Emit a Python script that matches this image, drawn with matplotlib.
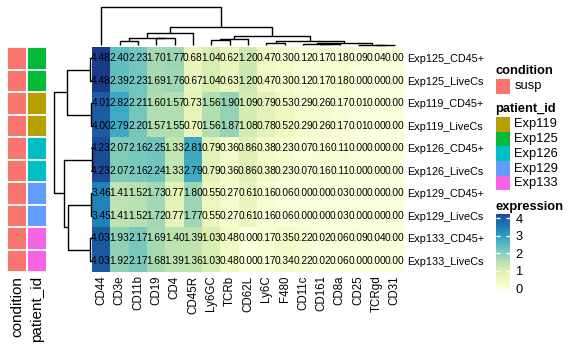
import numpy as np
import matplotlib
matplotlib.use("Agg")
import matplotlib.pyplot as plt
from matplotlib.colors import LinearSegmentedColormap, Normalize
from matplotlib.patches import Rectangle

plt.rcParams['font.family'] = ['Liberation Sans', 'DejaVu Sans']

markers = ["CD44", "CD3e", "CD11b", "CD19", "CD4", "CD45R", "Ly6GC", "TCRb", "CD62L",
           "Ly6C", "F480", "CD11c", "CD161", "CD8a", "CD25", "TCRgd", "CD31"]
samples = ["Exp125_CD45+", "Exp125_LiveCs", "Exp119_CD45+", "Exp119_LiveCs",
           "Exp126_CD45+", "Exp126_LiveCs", "Exp129_CD45+", "Exp129_LiveCs",
           "Exp133_CD45+", "Exp133_LiveCs"]
patient_of_sample = ["Exp125", "Exp125", "Exp119", "Exp119", "Exp126", "Exp126",
                     "Exp129", "Exp129", "Exp133", "Exp133"]
condition_of_sample = ["susp"] * 10

expression = np.array([
    [4.48, 2.40, 2.23, 1.70, 1.77, 0.68, 1.04, 0.62, 1.20, 0.47, 0.30, 0.12, 0.17, 0.18, 0.09, 0.04, 0.00],
    [4.48, 2.39, 2.23, 1.69, 1.76, 0.67, 1.04, 0.63, 1.20, 0.47, 0.30, 0.12, 0.17, 0.18, 0.00, 0.00, 0.00],
    [4.01, 2.82, 2.21, 1.60, 1.57, 0.73, 1.56, 1.90, 1.09, 0.79, 0.53, 0.29, 0.26, 0.17, 0.01, 0.00, 0.00],
    [4.00, 2.79, 2.20, 1.57, 1.55, 0.70, 1.56, 1.87, 1.08, 0.78, 0.52, 0.29, 0.26, 0.17, 0.01, 0.00, 0.00],
    [4.23, 2.07, 2.16, 2.25, 1.33, 2.81, 0.79, 0.36, 0.86, 0.38, 0.23, 0.07, 0.16, 0.11, 0.00, 0.00, 0.00],
    [4.23, 2.07, 2.16, 2.24, 1.33, 2.79, 0.79, 0.36, 0.86, 0.38, 0.23, 0.07, 0.16, 0.11, 0.00, 0.00, 0.00],
    [3.46, 1.41, 1.52, 1.73, 0.77, 1.80, 0.55, 0.27, 0.61, 0.16, 0.06, 0.00, 0.00, 0.03, 0.00, 0.00, 0.00],
    [3.45, 1.41, 1.52, 1.72, 0.77, 1.77, 0.55, 0.27, 0.61, 0.16, 0.06, 0.00, 0.00, 0.03, 0.00, 0.00, 0.00],
    [4.03, 1.93, 2.17, 1.69, 1.40, 1.39, 1.03, 0.48, 0.00, 0.17, 0.35, 0.22, 0.02, 0.06, 0.09, 0.04, 0.00],
    [4.03, 1.92, 2.17, 1.68, 1.39, 1.36, 1.03, 0.48, 0.00, 0.17, 0.34, 0.22, 0.02, 0.06, 0.00, 0.00, 0.00],
])

# dendrogram structure (leaf order as displayed), heights = average linkage
row_tree = ((("Exp125_CD45+", "Exp125_LiveCs"), ("Exp119_CD45+", "Exp119_LiveCs")),
            (("Exp126_CD45+", "Exp126_LiveCs"),
             (("Exp129_CD45+", "Exp129_LiveCs"), ("Exp133_CD45+", "Exp133_LiveCs"))))
col_tree = ("CD44",
            (((("CD3e", "CD11b"), ("CD19", "CD4")), "CD45R"),
             ((("Ly6GC", "TCRb"), "CD62L"),
              (("Ly6C", "F480"),
               (("CD11c", ("CD161", "CD8a")), ("CD25", ("TCRgd", "CD31")))))))

condition_levels = ["susp"]
condition_colors = ["#F8766D"]
patient_levels = ["Exp119", "Exp125", "Exp126", "Exp129", "Exp133"]
patient_colors = ["#B79F00", "#00BA38", "#00BFC4", "#619CFF", "#F564E3"]

cmap = LinearSegmentedColormap.from_list("ylgnbu", [
    (0.00, "#FCFFDD"), (0.11, "#F0F9C2"), (0.22, "#DCEFB2"), (0.34, "#B6E0B0"),
    (0.45, "#88CEBA"), (0.56, "#58BAC2"), (0.67, "#2D9FC4"), (0.78, "#1F80B8"),
    (0.89, "#1D5EA2"), (1.00, "#1B3A8A")])
norm = Normalize(0, 4.48)

W, H = 573, 354
fig = plt.figure(figsize=(W / 100, H / 100), dpi=100)


def frac(x0, y0, x1, y1):
    return [x0 / W, 1 - y1 / H, (x1 - x0) / W, (y1 - y0) / H]


hm_x0, hm_x1, hm_y0, hm_y1 = 92, 404, 47, 272

# heatmap
ax = fig.add_axes(frac(hm_x0, hm_y0, hm_x1, hm_y1))
ax.imshow(expression, cmap=cmap, norm=norm, aspect='auto', interpolation='nearest')
for i in range(len(samples)):
    for j in range(len(markers)):
        ax.text(j, i, f"{expression[i, j]:.2f}", ha='center', va='center', fontsize=7.3, color='black')
ax.set_xticks(range(len(markers)))
ax.set_xticklabels(markers, rotation=90, fontsize=8.3)
ax.yaxis.tick_right()
ax.set_yticks(range(len(samples)))
ax.set_yticklabels(samples, fontsize=7.8)
ax.tick_params(length=0, pad=2.5)
for s in ax.spines.values():
    s.set_visible(False)


def draw_tree(ax, tree, names, data, sideways):
    index = {n: i for i, n in enumerate(names)}

    def walk(node):
        if isinstance(node, str):
            return [index[node]], index[node], 0.0
        a = walk(node[0])
        b = walk(node[1])
        h = np.mean([np.linalg.norm(data[p] - data[q]) for p in a[0] for q in b[0]])
        pos = [a[1], a[1], b[1], b[1]]
        hts = [a[2], h, h, b[2]]
        if sideways:
            ax.plot(hts, pos, color='black', lw=1.0, solid_capstyle='butt', clip_on=False)
        else:
            ax.plot(pos, hts, color='black', lw=1.0, solid_capstyle='butt', clip_on=False)
        return a[0] + b[0], (a[1] + b[1]) / 2, h

    return walk(tree)[2]


# row dendrogram
rax = fig.add_axes(frac(54, hm_y0, hm_x0, hm_y1))
root = draw_tree(rax, row_tree, samples, expression, True)
rax.set_xlim(root, 0)
rax.set_ylim(len(samples) - 0.5, -0.5)
rax.axis('off')

# column dendrogram
cax = fig.add_axes(frac(hm_x0, 7, hm_x1, 45))
root = draw_tree(cax, col_tree, markers, expression.T, False)
cax.set_ylim(0, root)
cax.set_xlim(-0.5, len(markers) - 0.5)
cax.axis('off')

# annotation columns
aax = fig.add_axes(frac(7, hm_y0, 47, hm_y1))
for i in range(len(samples)):
    c1 = condition_colors[condition_levels.index(condition_of_sample[i])]
    c2 = patient_colors[patient_levels.index(patient_of_sample[i])]
    aax.add_patch(Rectangle((0, i), 1, 1, facecolor=c1, edgecolor='white', lw=1.3))
    aax.add_patch(Rectangle((1, i), 1, 1, facecolor=c2, edgecolor='white', lw=1.3))
aax.set_xlim(0, 2)
aax.set_ylim(len(samples), 0)
aax.set_xticks([0.5, 1.5])
aax.set_xticklabels(["condition", "patient_id"], rotation=90, fontsize=11)
aax.set_yticks([])
aax.tick_params(length=0, pad=3)
for s in aax.spines.values():
    s.set_visible(False)

# legends
lax = fig.add_axes([0, 0, 1, 1])
lax.set_xlim(0, W)
lax.set_ylim(H, 0)
lax.axis('off')
lx = 495
lax.text(lx, 71, "condition", fontsize=9.3, fontweight='bold', va='center')
y = 79
for lab, col in zip(condition_levels, condition_colors):
    lax.add_patch(Rectangle((lx + 1, y), 14, 14.5, facecolor=col, edgecolor='none'))
    lax.text(lx + 20, y + 7.5, lab, fontsize=9.3, va='center')
    y += 14.5
lax.text(lx, 109, "patient_id", fontsize=9.3, fontweight='bold', va='center')
y = 117
for lab, col in zip(patient_levels, patient_colors):
    lax.add_patch(Rectangle((lx + 1, y), 14, 14.7, facecolor=col, edgecolor='none'))
    lax.text(lx + 19, y + 7.5, lab, fontsize=9.3, va='center')
    y += 14.7
lax.text(lx, 207, "expression", fontsize=9.3, fontweight='bold', va='center')

bax = fig.add_axes(frac(lx + 1, 214, lx + 15, 290))
grad = np.linspace(-0.1, 4.25, 200)[:, None]
bax.imshow(grad, cmap=cmap, norm=norm, aspect='auto', origin='lower',
           extent=(0, 1, -0.1, 4.25))
bax.set_xlim(0, 1)
bax.set_ylim(-0.1, 4.25)
bax.set_xticks([])
bax.yaxis.tick_right()
bax.set_yticks([0, 1, 2, 3, 4])
bax.tick_params(axis='y', direction='in', color='white', length=3, width=1,
                left=True, right=True, labelsize=9.3, pad=4)
for s in bax.spines.values():
    s.set_visible(False)

fig.savefig("out.png", dpi=100)
